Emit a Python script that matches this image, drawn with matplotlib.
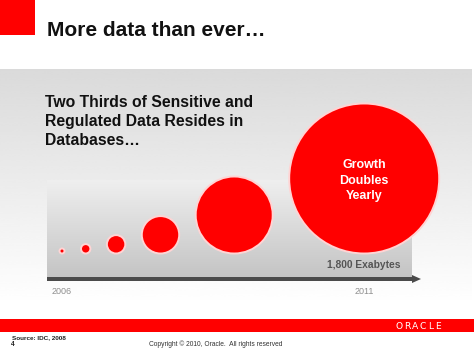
import numpy as np
import matplotlib
matplotlib.use("Agg")
import matplotlib.pyplot as plt
from matplotlib.patches import Circle, Rectangle, FancyArrow

plt.rcParams['font.family'] = ['Liberation Sans', 'DejaVu Sans']

# data
years = [2006, 2007, 2008, 2009, 2010, 2011]
bubble_radius = [2.5, 4.7, 9.2, 18.7, 38.5, 75.0]   # grows each year
end_label = "1,800 Exabytes"
first_year = "2006"
last_year = "2011"

RED = "#ff0000"

fig = plt.figure(figsize=(4.74, 3.55), dpi=100)
ax = fig.add_axes([0, 0, 1, 1])
ax.set_xlim(0, 474)
ax.set_ylim(355, 0)
ax.axis("off")

# title block
ax.add_patch(Rectangle((0, 0), 35, 35, color=RED, lw=0))
ax.text(47, 36, "More data than ever…", fontsize=15, fontweight="bold",
        color="#111111", va="baseline", ha="left")

# grey band behind the chart
band = np.linspace(0.855, 1.0, 256).reshape(-1, 1)
ax.imshow(band, cmap="gray", vmin=0, vmax=1, extent=(0, 472, 305, 69),
          aspect="auto", interpolation="bicubic", zorder=0)

# inner chart box
box = np.linspace(0.935, 0.765, 256).reshape(-1, 1)
ax.imshow(box, cmap="gray", vmin=0, vmax=1, extent=(47, 412, 279, 180),
          aspect="auto", interpolation="bicubic", zorder=1)

lines = ["Two Thirds of Sensitive and", "Regulated Data Resides in", "Databases…"]
for i, t in enumerate(lines):
    ax.text(45, 107 + i * 19, t, fontsize=11.3, fontweight="bold",
            color="#111111", va="baseline", ha="left", zorder=3)

# bubbles, each one sits on the same base line
base_y = 253.5
gap = 16.5
cx = [62.0]
for i in range(1, len(bubble_radius)):
    cx.append(cx[-1] + bubble_radius[i - 1] + bubble_radius[i] + gap)
for x, r in zip(cx, bubble_radius):
    ax.add_patch(Circle((x, base_y - r), r, facecolor=RED, edgecolor="#ffd4d4",
                        lw=1.4, zorder=4))

big_x, big_y = cx[-1], base_y - bubble_radius[-1]
for i, t in enumerate(["Growth", "Doubles", "Yearly"]):
    ax.text(big_x, big_y - 10 + i * 15.5, t, fontsize=9, fontweight="bold",
            color="white", ha="center", va="baseline", zorder=5)

# timeline arrow
ax.add_patch(FancyArrow(47, 279, 374, 0, width=4, head_width=8, head_length=9,
                        length_includes_head=True, color="#4a4a4a", lw=0, zorder=3))
ax.text(401, 268, end_label, fontsize=7.4, fontweight="bold", color="#555555",
        ha="right", va="baseline", zorder=5)
ax.text(cx[0], 294.5, first_year, fontsize=6.5, color="#8f8f8f",
        ha="center", va="baseline", zorder=3)
ax.text(cx[-1], 294.5, last_year, fontsize=6.5, color="#8f8f8f",
        ha="center", va="baseline", zorder=3)

# footer
ax.add_patch(Rectangle((0, 319), 474, 13, color=RED, lw=0, zorder=3))
for k, ch in enumerate("ORACLE"):
    ax.text(399 + k * 7.9, 329.3, ch, fontsize=6.6, color="white",
            family="DejaVu Sans", ha="center", va="baseline", zorder=4)
ax.text(12, 339, "Source: IDC, 2008", fontsize=4.6, fontweight="bold",
        color="#222222", ha="left", va="baseline")
ax.text(11, 345.5, "4", fontsize=4.8, fontweight="bold", color="#222222",
        ha="left", va="baseline")
ax.text(216, 346.5, "Copyright © 2010, Oracle.  All rights reserved", fontsize=4.8,
        color="#333333", ha="center", va="baseline")

fig.savefig("out.png", dpi=100)
